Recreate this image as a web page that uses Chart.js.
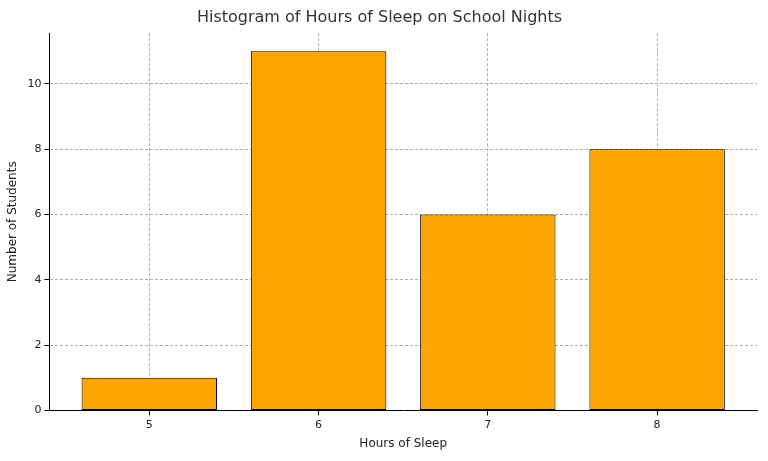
<!DOCTYPE html>
<html><head><meta charset="utf-8">
<script src="https://cdn.jsdelivr.net/npm/chart.js@4"></script>
<style>html,body{margin:0;padding:0;background:#fff}#w{width:768px;height:461px}</style>
</head><body><div id="w"><canvas id="c"></canvas></div>
<script>
const hours = [5, 6, 7, 8];
const students = [1, 11, 6, 8];
const yTicks = [0, 2, 4, 6, 8, 10];
Chart.defaults.font.family = 'DejaVu Sans';
Chart.defaults.color = '#222';
new Chart(document.getElementById('c'), {
  type: 'bar',
  data: { datasets: [{
    data: hours.map((h, i) => ({x: h, y: students[i]})),
    backgroundColor: '#FFA500', borderColor: '#000', borderWidth: 1,
    barPercentage: 0.8, categoryPercentage: 1, borderSkipped: false
  }]},
  options: {
    responsive: true, maintainAspectRatio: false, animation: false,
    layout: { padding: { left: 2, right: 11, top: 0, bottom: 6 } },
    plugins: {
      legend: { display: false },
      title: { display: true, text: 'Histogram of Hours of Sleep on School Nights',
        font: { size: 16, weight: 'normal' }, color: '#333', padding: { top: 8, bottom: 6 } }
    },
    scales: {
      x: { type: 'linear', min: 4.41, max: 8.59, offset: false,
        afterBuildTicks: a => { a.ticks = hours.map(v => ({value: v})); },
        ticks: { font: { size: 11 }, color: '#222' },
        grid: { offset: false, color: '#b0b0b0', tickColor: '#000', tickLength: 5, z: -1 },
        border: { display: true, color: '#000', dash: [3, 2] },
        title: { display: true, text: 'Hours of Sleep', font: { size: 12 }, padding: { top: 2 } } },
      y: { min: 0, max: 11.55,
        afterBuildTicks: a => { a.ticks = yTicks.map(v => ({value: v})); },
        ticks: { font: { size: 11 }, color: '#222' },
        grid: { color: '#b0b0b0', tickColor: '#000', tickLength: 5, z: -1 },
        border: { display: true, color: '#000', dash: [3, 2] },
        title: { display: true, text: 'Number of Students', font: { size: 12 }, padding: { bottom: 4 } } }
    }
  }
});
</script></body></html>
